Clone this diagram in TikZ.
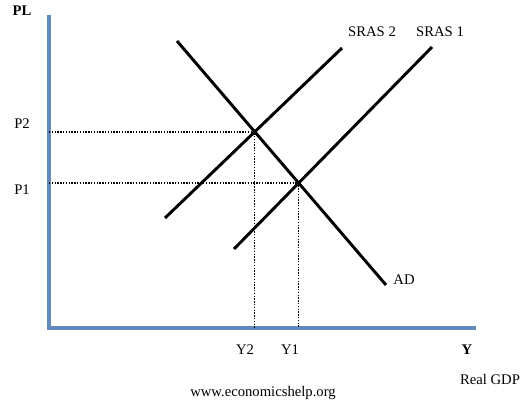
\documentclass[tikz,border=0pt]{standalone}
\usepackage{fontspec}
\setmainfont{Liberation Serif}
\usetikzlibrary{intersections}
\definecolor{axisblue}{RGB}{98,139,188}

\begin{document}
\begin{tikzpicture}[x=0.75pt,y=-0.75pt,line width=2.2pt,
  lbl/.style={font=\fontsize{11}{13}\selectfont},
  bold lbl/.style={font=\fontsize{11}{13}\selectfont\bfseries},
  guide/.style={line width=1.1pt,dash pattern=on 1pt off 1.1pt}]
\useasboundingbox (0,0) rectangle (528,408);
% axes
\coordinate (O) at (49,328);
\coordinate (ytop) at (49,15);
\coordinate (xend) at (476,328);
\draw[line width=3pt,axisblue,line join=miter] (ytop) -- (O) -- (xend);
% demand and supply curves
\coordinate (ad1) at (177,41);   \coordinate (ad2) at (386,285);
\coordinate (sa1) at (165,218);  \coordinate (sa2) at (342,48);
\coordinate (sb1) at (234,249);  \coordinate (sb2) at (432,47);
\draw[name path=ad] (ad1) -- (ad2);
\draw[name path=sras2] (sa1) -- (sa2);
\draw[name path=sras1] (sb1) -- (sb2);
\path[name intersections={of=ad and sras2,by=E2}];
\path[name intersections={of=ad and sras1,by=E1}];
% equilibrium guides
\draw[guide] (O |- E2) -- (E2) -- (E2 |- O);
\draw[guide] (O |- E1) -- (E1) -- (E1 |- O);
% labels
\node[bold lbl] (pl) at (22,11) {PL};
\node[lbl] (p2) at (22,124) {P2};
\node[lbl] (p1) at (22,190) {P1};
\node[lbl] (y2) at (245,350) {Y2};
\node[lbl] (y1) at (290,350) {Y1};
\node[bold lbl] (yax) at (467,350) {Y};
\node[lbl] (gdp) at (490,379) {Real GDP};
\node[lbl] (src) at (263,393) {www.economicshelp.org};
\node[lbl] (lsras2) at (372,32) {SRAS 2};
\node[lbl] (lsras1) at (440,32) {SRAS 1};
\node[lbl] (lad) at (404,280) {AD};
\end{tikzpicture}
\end{document}
